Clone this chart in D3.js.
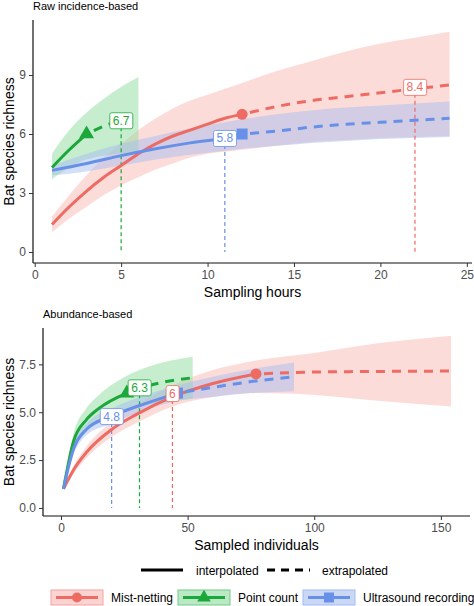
<!DOCTYPE html>
<html><head><meta charset="utf-8">
<script src="https://cdn.jsdelivr.net/npm/d3@7"></script>
<style>body{margin:0;background:#fff;font-family:"Liberation Sans",Arial,sans-serif}</style>
</head><body><svg id="c" width="474" height="606"></svg>
<script>
// ======== DATA ========
const methods = ['Mist-netting', 'Point count', 'Ultrasound recording'];
const colors = ['#ee6b64', '#1ba83a', '#6790e8'];
const bandFill = ['#f9b9b4', '#8fdc9f', '#a8bdf0'];

// rows: [x, y, lower, upper]
const rawMistInterp = [[1,1.4,1.0,1.8],[2,2.3,1.7,2.9],[3,3.1,2.3,3.9],[4,3.8,2.9,4.8],[5,4.4,3.4,5.5],[6,5.0,3.8,6.2],[7,5.5,4.2,6.8],[8,5.9,4.5,7.3],[9,6.2,4.8,7.7],[10,6.5,5.0,8.0],[11,6.8,5.1,8.3],[12,7.0,5.2,8.6]];
const rawMistExtrap = [[12,7.0,5.2,8.6],[14,7.4,5.4,9.2],[16,7.7,5.6,9.7],[18,7.9,5.7,10.2],[20,8.1,5.8,10.6],[22,8.3,5.85,10.9],[24,8.5,5.9,11.2]];
const rawPointInterp = [[1,4.3,3.7,5.0],[2,5.2,4.3,6.2],[3,6.0,4.7,7.1]];
const rawPointExtrap = [[3,6.0,4.7,7.1],[4,6.4,4.9,7.8],[5,6.7,5.0,8.4],[6,6.9,5.0,8.9]];
const rawUltraInterp = [[1,4.15,3.9,4.4],[3,4.5,4.1,5.0],[5,4.9,4.4,5.5],[7,5.25,4.7,5.9],[9,5.55,4.95,6.3],[11,5.8,5.15,6.6],[12,6.0,5.25,6.75]];
const rawUltraExtrap = [[12,6.0,5.25,6.75],[14,6.15,5.4,7.0],[16,6.35,5.55,7.2],[18,6.5,5.65,7.35],[20,6.6,5.75,7.45],[22,6.7,5.8,7.55],[24,6.8,5.85,7.65]];
const rawLabels = [[22, 8.4, '8.4'], [5, 6.7, '6.7'], [11, 5.8, '5.8']];

const abMistInterp = [[1,1.0,1.0,1.0],[5,2.0,1.8,2.2],[10,2.9,2.6,3.2],[20,4.1,3.7,4.5],[30,4.9,4.45,5.4],[44,5.8,5.3,6.4],[60,6.5,5.8,7.2],[77,7.0,6.0,7.7]];
const abMistExtrap = [[77,7.0,6.0,7.7],[100,7.1,5.9,8.1],[125,7.13,5.6,8.6],[154,7.15,5.3,9.0]];
const abPointInterp = [[1,1.0,1.0,1.0],[5,3.5,3.1,3.9],[10,4.6,4.1,5.2],[15,5.2,4.6,5.9],[26,6.0,5.1,6.9]];
const abPointExtrap = [[26,6.0,5.1,6.9],[35,6.4,5.4,7.4],[52,6.8,5.7,7.9]];
const abUltraInterp = [[1,1.0,1.0,1.0],[5,3.1,2.8,3.4],[10,4.1,3.8,4.4],[20,4.8,4.4,5.2],[30,5.3,4.95,5.75],[46,6.0,5.6,6.4]];
const abUltraExtrap = [[46,6.0,5.6,6.4],[60,6.3,5.8,6.85],[75,6.6,6.0,7.25],[92,6.85,6.1,7.6]];
const abLabels = [[44, 6.0, '6'], [31, 6.3, '6.3'], [20, 4.8, '4.8']];

const svg = d3.select('#c');

function panel(o) {
  const g = svg.append('g');
  const x = d3.scaleLinear().domain(o.xd).range([o.left, o.right]);
  const y = d3.scaleLinear().domain(o.yd).range([o.bottom, o.top]);
  const curve = d3.curveMonotoneX;
  const area = d3.area().x(d => x(d[0])).y0(d => y(d[2])).y1(d => y(d[3])).curve(curve);
  const line = d3.line().x(d => x(d[0])).y(d => y(d[1])).curve(curve);

  // bands
  o.series.forEach((s, i) => {
    g.append('path').attr('d', area(s[0].concat(s[1].slice(1))))
      .attr('fill', bandFill[i]).attr('opacity', 0.5);
  });
  // vertical reference lines
  o.labels.forEach((l, i) => {
    g.append('line').attr('x1', x(l[0])).attr('x2', x(l[0]))
      .attr('y1', y(l[1])).attr('y2', y(0))
      .attr('stroke', colors[i]).attr('stroke-width', 1.2).attr('stroke-dasharray', '4,3');
  });
  // lines
  o.series.forEach((s, i) => {
    g.append('path').attr('d', line(s[0])).attr('fill', 'none')
      .attr('stroke', colors[i]).attr('stroke-width', 3);
    g.append('path').attr('d', line(s[1])).attr('fill', 'none')
      .attr('stroke', colors[i]).attr('stroke-width', 3).attr('stroke-dasharray', '9,7')
      .attr('stroke-dashoffset', -8);
    const last = s[0][s[0].length - 1];
    drawShape(g, i, x(last[0]), y(last[1]), 1.1);
  });
  // labels
  o.labels.forEach((l, i) => {
    const t = g.append('text').attr('x', x(l[0])).attr('y', y(l[1]) + 4.5)
      .attr('text-anchor', 'middle').attr('font-size', 12).attr('fill', colors[i]).text(l[2]);
    const b = t.node().getBBox();
    g.insert('rect', () => t.node()).attr('x', b.x - 3).attr('y', b.y - 1)
      .attr('width', b.width + 6).attr('height', b.height + 2).attr('rx', 2)
      .attr('fill', '#fff').attr('stroke', colors[i]).attr('stroke-width', 0.8);
  });
  // axes
  const xa = g.append('g').attr('transform', `translate(0,${o.bottom})`)
    .call(d3.axisBottom(x).tickValues(o.xt).tickSize(4).tickSizeOuter(0));
  xa.select('.domain').attr('d', `M${o.left},0H${o.right}`);
  const ya = g.append('g').attr('transform', `translate(${o.left},0)`)
    .call(d3.axisLeft(y).tickValues(o.yt).tickFormat(o.yf).tickSize(4).tickSizeOuter(0));
  ya.select('.domain').attr('d', `M0,${o.top}V${o.bottom}`);
  [xa, ya].forEach(a => {
    a.selectAll('text').attr('font-size', 12).attr('fill', '#4d4d4d').attr('font-family', 'Liberation Sans, Arial');
    a.selectAll('line').attr('stroke', '#333');
    a.select('.domain').attr('stroke', '#111').attr('stroke-width', 1.2);
  });
  g.append('text').attr('x', (o.left + o.right) / 2).attr('y', o.bottom + 34)
    .attr('text-anchor', 'middle').attr('font-size', 14).text(o.xlab);
  g.append('text').attr('transform', `translate(14,${(o.top + o.bottom) / 2}) rotate(-90)`)
    .attr('text-anchor', 'middle').attr('font-size', 14).text('Bat species richness');
  g.append('text').attr('x', o.titleX).attr('y', o.titleY).attr('font-size', 11).text(o.title);
}

function drawShape(g, i, cx, cy, s) {
  if (i === 0) g.append('circle').attr('cx', cx).attr('cy', cy).attr('r', 5 * s).attr('fill', colors[i]);
  else if (i === 1) g.append('path').attr('d', d3.symbol(d3.symbolTriangle, 80 * s * s)()).attr('transform', `translate(${cx},${cy})`).attr('fill', colors[i]);
  else g.append('rect').attr('x', cx - 5 * s).attr('y', cy - 5 * s).attr('width', 10 * s).attr('height', 10 * s).attr('fill', colors[i]);
}

panel({
  xd: [-0.1, 25.3], yd: [-0.56, 11.8], left: 33, right: 472, top: 20, bottom: 263,
  xt: [0, 5, 10, 15, 20, 25], yt: [0, 3, 6, 9], yf: d3.format('d'),
  xlab: 'Sampling hours', title: 'Raw incidence-based', titleX: 33, titleY: 10,
  series: [[rawMistInterp, rawMistExtrap], [rawPointInterp, rawPointExtrap], [rawUltraInterp, rawUltraExtrap]],
  labels: rawLabels
});
panel({
  xd: [-7.1, 161.5], yd: [-0.42, 9.4], left: 43, right: 470, top: 328, bottom: 516,
  xt: [0, 50, 100, 150], yt: [0, 2.5, 5, 7.5], yf: d3.format('.1f'),
  xlab: 'Sampled individuals', title: 'Abundance-based', titleX: 43, titleY: 318,
  series: [[abMistInterp, abMistExtrap], [abPointInterp, abPointExtrap], [abUltraInterp, abUltraExtrap]],
  labels: abLabels
});

// legend: line types
const lg = svg.append('g');
lg.append('line').attr('x1', 141).attr('x2', 183).attr('y1', 570).attr('y2', 570).attr('stroke', '#000').attr('stroke-width', 3);
lg.append('text').attr('x', 196).attr('y', 575).attr('font-size', 12).text('interpolated');
lg.append('line').attr('x1', 267).attr('x2', 310).attr('y1', 570).attr('y2', 570).attr('stroke', '#000').attr('stroke-width', 3).attr('stroke-dasharray', '8,6');
lg.append('text').attr('x', 322).attr('y', 575).attr('font-size', 12).text('extrapolated');
// legend: methods
const keyX = [51, 178, 303], txtX = [111, 238, 363];
methods.forEach((m, i) => {
  lg.append('rect').attr('x', keyX[i]).attr('y', 590).attr('width', 52).attr('height', 15)
    .attr('fill', bandFill[i]).attr('opacity', 0.6).attr('stroke', colors[i]).attr('stroke-width', 1);
  lg.append('line').attr('x1', keyX[i] + 5).attr('x2', keyX[i] + 47).attr('y1', 597.5).attr('y2', 597.5)
    .attr('stroke', colors[i]).attr('stroke-width', 3);
  drawShape(lg, i, keyX[i] + 26, 597.5, 1);
  lg.append('text').attr('x', txtX[i]).attr('y', 602).attr('font-size', 12).text(m);
});
</script></body></html>
